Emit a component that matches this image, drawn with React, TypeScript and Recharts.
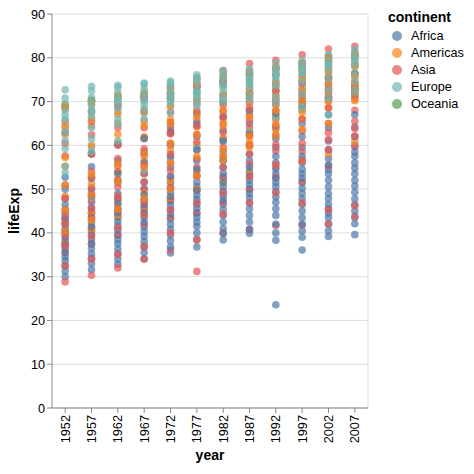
import React from 'react';
import { ScatterChart, Scatter, XAxis, YAxis, CartesianGrid, Legend, ReferenceLine } from 'recharts';

const years = [1952, 1957, 1962, 1967, 1972, 1977, 1982, 1987, 1992, 1997, 2002, 2007];
const yTicks = [0, 10, 20, 30, 40, 50, 60, 70, 80, 90];

const continents = ['Africa', 'Americas', 'Asia', 'Europe', 'Oceania'];
const colors = ['#4c78a8', '#f58518', '#e45756', '#72b7b2', '#54a24b'];

// life expectancy per year (one row per year, same order as `years`)
const africa = [
  [30.0, 31.3, 32.5, 33.6, 34.5, 35.5, 36.3, 37.3, 38.2, 39.0, 40.0, 41.0, 42.0, 43.1, 44.6, 46.5, 47.8, 50.0, 52.7],
  [31.6, 33.0, 34.2, 35.2, 36.5, 37.5, 38.5, 39.5, 40.5, 41.5, 42.5, 43.5, 44.5, 45.7, 47.0, 48.5, 50.0, 52.5, 55.1, 58.1],
  [32.8, 34.0, 35.2, 36.3, 37.5, 38.5, 39.6, 40.6, 41.6, 42.6, 43.6, 44.6, 45.6, 46.7, 47.8, 49.0, 51.5, 53.5, 56.5, 60.2],
  [34.1, 35.5, 36.8, 38.0, 39.2, 40.3, 41.4, 42.5, 43.6, 44.6, 45.6, 46.6, 47.6, 48.7, 50.0, 51.5, 53.5, 56.0, 58.5, 61.6],
  [35.4, 36.8, 38.2, 39.5, 40.8, 42.0, 43.2, 44.3, 45.3, 46.3, 47.3, 48.3, 49.3, 50.3, 51.5, 53.0, 55.0, 57.5, 60.0, 62.9, 64.3],
  [36.8, 38.5, 40.0, 41.5, 42.5, 43.6, 44.6, 45.6, 46.6, 47.6, 48.6, 49.6, 50.6, 51.6, 53.0, 54.5, 56.5, 59.0, 62.0, 64.9, 67.1],
  [38.4, 39.9, 41.0, 42.5, 44.0, 45.3, 46.5, 47.5, 48.5, 49.5, 50.5, 51.5, 52.5, 53.6, 55.0, 56.5, 58.5, 61.0, 63.5, 66.6, 69.9],
  [39.9, 40.8, 42.5, 44.0, 45.5, 46.8, 48.0, 49.0, 50.0, 51.0, 52.0, 53.0, 54.0, 55.0, 56.5, 58.0, 60.0, 62.5, 65.0, 67.9, 71.9],
  [23.6, 38.3, 40.0, 42.0, 44.0, 45.5, 47.0, 48.2, 49.4, 50.5, 51.5, 52.5, 53.5, 54.6, 56.0, 57.5, 59.5, 61.5, 64.0, 67.3, 73.6],
  [36.1, 39.0, 40.5, 42.0, 43.5, 45.0, 46.5, 47.8, 49.0, 50.2, 51.5, 52.5, 53.5, 54.5, 56.0, 57.5, 59.5, 62.0, 65.0, 69.2, 74.8],
  [39.2, 40.5, 42.0, 43.5, 44.5, 45.5, 46.5, 47.8, 49.0, 50.5, 52.0, 53.5, 54.5, 55.5, 57.0, 59.0, 61.0, 64.0, 67.0, 71.0, 75.7],
  [39.6, 42.1, 43.5, 45.0, 46.4, 47.8, 49.3, 50.7, 52.0, 53.5, 54.8, 56.0, 57.5, 58.5, 60.0, 62.0, 64.2, 67.0, 71.3, 73.0, 76.4],
];

const americas = [
  [37.6, 40.4, 42.3, 45.3, 48.4, 50.9, 55.2, 57.2, 62.5, 64.4, 68.4, 68.8],
  [40.7, 42.9, 44.6, 48.6, 51.3, 53.3, 58.0, 60.0, 64.4, 66.1, 69.5, 70.0],
  [43.6, 45.4, 46.7, 51.7, 54.0, 55.7, 60.5, 62.5, 65.1, 67.1, 70.0, 71.3],
  [45.0, 47.8, 49.0, 55.0, 56.5, 58.2, 62.0, 64.5, 65.6, 68.0, 70.8, 72.1],
  [48.0, 50.0, 51.9, 56.0, 58.9, 60.5, 62.8, 65.0, 66.0, 69.0, 71.3, 72.9],
  [49.9, 53.0, 54.0, 57.5, 60.2, 62.4, 64.2, 66.5, 68.0, 70.5, 73.4, 74.2],
  [51.5, 56.6, 57.5, 59.0, 61.7, 64.5, 66.0, 68.0, 70.0, 71.6, 74.9, 75.8],
  [53.6, 59.5, 60.8, 62.0, 63.2, 66.5, 68.0, 70.0, 71.8, 72.0, 75.0, 76.9],
  [55.1, 62.2, 63.5, 65.0, 66.8, 68.0, 69.3, 71.0, 72.5, 74.0, 76.1, 78.0],
  [56.7, 63.7, 66.0, 67.5, 68.5, 70.0, 71.4, 72.5, 74.0, 75.0, 77.0, 78.6],
  [58.1, 65.0, 68.6, 70.0, 71.0, 72.0, 73.0, 74.2, 75.5, 77.0, 78.0, 79.8],
  [60.9, 70.2, 71.4, 72.4, 72.9, 73.7, 74.2, 75.5, 76.4, 78.2, 78.8, 80.7],
];

const asia = [
  [28.8, 32.5, 35.5, 37.0, 37.5, 39.4, 40.4, 42.1, 43.2, 44.0, 45.3, 47.9, 50.9, 57.6, 60.4, 63.0, 65.4],
  [30.3, 34.0, 37.5, 39.3, 41.2, 43.4, 44.8, 45.7, 47.5, 49.0, 50.3, 52.7, 54.0, 58.0, 62.4, 65.5, 67.8],
  [32.0, 35.1, 39.4, 41.2, 44.5, 45.4, 47.7, 48.5, 50.5, 52.2, 53.9, 55.3, 57.0, 60.0, 64.0, 68.7, 69.4],
  [34.0, 36.9, 42.0, 44.1, 46.0, 47.2, 50.0, 51.7, 53.6, 55.4, 57.7, 59.2, 61.5, 64.0, 67.5, 70.8, 71.4],
  [36.1, 40.0, 43.6, 45.3, 47.6, 50.3, 52.6, 54.2, 56.0, 58.0, 60.4, 62.6, 63.5, 65.2, 67.6, 70.8, 73.4],
  [31.2, 38.4, 44.5, 46.9, 49.9, 53.0, 55.0, 57.0, 59.0, 60.8, 62.5, 64.4, 65.6, 67.6, 69.5, 73.5, 75.4],
  [39.9, 44.3, 47.0, 49.1, 52.8, 55.0, 57.3, 59.6, 61.4, 63.0, 65.0, 66.6, 67.8, 69.2, 71.2, 74.5, 77.1],
  [40.8, 46.9, 49.9, 52.8, 55.7, 58.0, 60.1, 62.3, 64.0, 65.7, 67.0, 68.6, 69.8, 71.0, 73.0, 76.2, 78.7],
  [41.7, 49.2, 52.7, 55.6, 58.7, 60.2, 62.4, 64.5, 66.1, 68.0, 69.3, 70.3, 71.6, 72.5, 74.5, 77.6, 79.4],
  [41.8, 46.8, 51.6, 56.4, 58.6, 60.5, 63.3, 66.0, 68.6, 69.8, 70.7, 71.6, 72.5, 74.1, 76.0, 78.6, 80.7],
  [42.1, 45.2, 55.3, 59.0, 61.3, 62.9, 65.0, 68.6, 70.3, 71.0, 72.0, 73.0, 74.0, 75.1, 77.5, 79.7, 82.0],
  [43.8, 46.2, 59.6, 62.1, 63.8, 65.5, 68.0, 70.6, 71.7, 72.4, 72.9, 73.9, 74.2, 76.4, 78.4, 80.7, 82.6],
];

const europe = [
  [43.6, 53.8, 55.2, 59.3, 61.1, 63.0, 64.0, 65.9, 66.9, 68.0, 69.2, 70.8, 72.7],
  [48.1, 58.5, 59.6, 61.5, 64.0, 66.6, 67.5, 68.0, 69.1, 70.0, 71.0, 72.5, 73.5],
  [52.1, 61.0, 64.8, 66.0, 67.7, 68.7, 69.5, 70.2, 70.5, 71.2, 72.0, 73.2, 73.7],
  [54.3, 66.0, 67.5, 68.3, 69.3, 70.0, 70.5, 70.9, 71.4, 72.1, 73.0, 74.0, 74.2],
  [57.0, 67.4, 69.0, 69.8, 70.3, 70.6, 71.0, 71.5, 72.1, 73.0, 73.8, 74.3, 74.7],
  [59.5, 68.9, 70.0, 70.5, 71.0, 71.5, 72.2, 72.7, 73.5, 74.4, 75.0, 75.4, 76.1],
  [61.0, 70.0, 70.4, 71.0, 71.8, 72.7, 73.5, 74.0, 74.6, 75.2, 75.9, 76.3, 77.0],
  [63.1, 70.4, 70.8, 71.5, 72.3, 73.5, 74.5, 75.0, 75.5, 76.0, 76.6, 77.2, 77.4],
  [66.1, 69.6, 70.5, 71.0, 72.5, 73.8, 75.0, 75.8, 76.3, 76.9, 77.4, 77.9, 78.8],
  [68.0, 68.8, 70.4, 71.8, 73.2, 74.5, 75.8, 76.5, 77.1, 77.8, 78.2, 78.8, 79.4],
  [67.0, 70.8, 70.5, 72.6, 74.0, 75.2, 76.7, 77.5, 78.0, 78.5, 79.0, 79.5, 80.6],
  [71.8, 72.5, 73.3, 74.5, 75.7, 76.4, 77.9, 78.6, 79.3, 79.8, 80.2, 80.9, 81.8],
];

const oceania = [
  [68.7, 69.4], [70.3, 70.3], [70.9, 71.2], [71.1, 71.5], [71.9, 71.9], [73.5, 72.2],
  [74.7, 73.8], [76.3, 74.3], [77.6, 76.3], [78.8, 77.6], [80.4, 79.1], [81.2, 80.2],
];

const byContinent = [africa, americas, asia, europe, oceania];

const toPoints = (rows: number[][], part: number) =>
  rows.flatMap((vals, i) =>
    vals.filter((_, k) => k % 2 === part).map((v) => ({ year: years[i], lifeExp: v }))
  );

// each continent is split into two halves so the colours interleave when painted
const layers = [
  [4, 0], [4, 1],
  [0, 0], [2, 0], [1, 0], [3, 0],
  [0, 1], [2, 1], [1, 1], [3, 1],
];

const FONT = '"Liberation Sans", Arial, Helvetica, sans-serif';

const YearTick = (props: any) => {
  const { x, y, payload } = props;
  return (
    <text
      x={x}
      y={y}
      transform={`rotate(-90, ${x}, ${y})`}
      textAnchor="end"
      dy="0.35em"
      fontSize={12.7}
      fontFamily={FONT}
      fill="#000"
    >
      {payload.value}
    </text>
  );
};

const LegendBox = () => (
  <div style={{ fontFamily: FONT, color: '#000' }}>
    <div style={{ fontWeight: 'bold', fontSize: 14, lineHeight: '17px', marginBottom: 1 }}>continent</div>
    {continents.map((c, i) => (
      <div key={c} style={{ display: 'flex', alignItems: 'center', height: 17, fontSize: 12.7 }}>
        <span
          style={{
            width: 10,
            height: 10,
            borderRadius: '50%',
            background: colors[i],
            opacity: 0.7,
            marginLeft: 4,
            marginRight: 9,
          }}
        />
        {c}
      </div>
    ))}
  </div>
);

export default function App() {
  return (
    <div style={{ position: 'absolute', left: 0, top: 0, width: 474, height: 474, background: '#fff' }}>
      <ScatterChart width={474} height={474} margin={{ top: 14, right: 20, bottom: 0, left: 0 }}>
        <CartesianGrid vertical={false} stroke="#ddd" />
        <ReferenceLine x={2009.5} stroke="#ddd" />
        <XAxis
          type="number"
          dataKey="year"
          domain={[1949.5, 2009.5]}
          ticks={years}
          interval={0}
          height={66}
          stroke="#888"
          tickSize={5}
          tick={<YearTick />}
          label={({ viewBox }: any) => (
            <text
              x={viewBox.x + viewBox.width / 2}
              y={viewBox.y + 52}
              textAnchor="middle"
              fontWeight="bold"
              fontSize={14}
              fontFamily={FONT}
              fill="#000"
            >
              year
            </text>
          )}
        />
        <YAxis
          type="number"
          dataKey="lifeExp"
          domain={[0, 90]}
          ticks={yTicks}
          interval={0}
          width={52}
          stroke="#888"
          tickSize={5}
          tick={{ fontSize: 12.7, fontFamily: FONT, fill: '#000' }}
          label={({ viewBox }: any) => {
            const cy = viewBox.y + viewBox.height / 2;
            return (
              <text
                x={19}
                y={cy}
                transform={`rotate(-90, 19, ${cy})`}
                textAnchor="middle"
                fontWeight="bold"
                fontSize={14}
                fontFamily={FONT}
                fill="#000"
              >
                lifeExp
              </text>
            );
          }}
        />
        <Legend
          layout="vertical"
          verticalAlign="top"
          align="right"
          content={<LegendBox />}
          wrapperStyle={{ left: 388, top: 9, width: 86 }}
        />
        {layers.map(([c, part]) => (
          <Scatter
            key={`${continents[c]}-${part}`}
            name={continents[c]}
            data={toPoints(byContinent[c], part)}
            isAnimationActive={false}
            shape={(p: any) => <circle cx={p.cx} cy={p.cy} r={3.8} fill={colors[c]} fillOpacity={0.7} />}
          />
        ))}
      </ScatterChart>
    </div>
  );
}
